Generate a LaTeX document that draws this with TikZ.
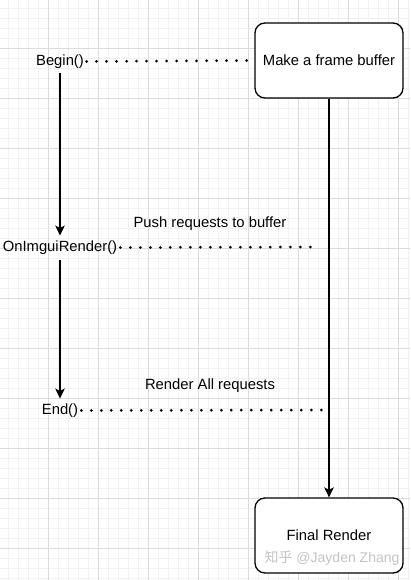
\documentclass[tikz,border=0pt]{standalone}
\usepackage{fontspec}
\setmainfont{Liberation Sans}
\newfontfamily\cjkfont{Noto Sans CJK SC}
\usetikzlibrary{arrows.meta}
\definecolor{minorgrid}{HTML}{F1F1F1}
\definecolor{majorgrid}{HTML}{DCDCDC}
\definecolor{wmark}{HTML}{C4C4C4}
\begin{document}
\begin{tikzpicture}[x=1pt,y=-1pt,
  lbl/.style={font=\fontsize{14.8}{17}\selectfont, inner sep=0pt, text height=10.5pt, text depth=3pt},
  box/.style={draw, line width=1.3pt, rounded corners=10pt, minimum width=148pt, minimum height=75pt, font=\fontsize{14.8}{17}\selectfont, inner sep=0pt},
  flow/.style={line width=1.3pt, -{Stealth[width=9.5pt,length=10pt,inset=2.5pt]}},
  dots/.style={line width=3pt, line cap=round, dash pattern=on 0pt off 10pt}]
\useasboundingbox (0,0) rectangle (410,580);
\fill[white] (0,0) rectangle (410,580);
% grid
\foreach \g in {8.5,18.5,...,408.5} {\draw[minorgrid, line width=0.8pt] (\g,0) -- (\g,580);}
\foreach \g in {8.5,18.5,...,578.5} {\draw[minorgrid, line width=0.8pt] (0,\g) -- (410,\g);}
\foreach \g in {48.5,98.5,...,408.5} {\draw[majorgrid, line width=0.8pt] (\g,0) -- (\g,580);}
\foreach \g in {48.5,98.5,...,578.5} {\draw[majorgrid, line width=0.8pt] (0,\g) -- (410,\g);}
% nodes
\node[box, fill=white] (fb) at (329,60.5) {Make a frame buffer};
\node[box, fill=white] (final) at (329,535.5) {Final Render};
\node[lbl] (begin) at (60,61.5) {Begin()};
\node[lbl] (imgui) at (60,247.5) {OnImguiRender()};
\node[lbl] (endn) at (60,410.5) {End()};
\node[lbl] (push) at (210,223.5) {Push requests to buffer};
\node[lbl] (rall) at (210,385.5) {Render All requests};
\node[font=\fontsize{14}{16}\selectfont, text=wmark, inner sep=0pt] (wm) at (332,558) {{\cjkfont 知乎} @Jayden Zhang};
\coordinate (imguiend) at (318,247);
\coordinate (endend) at (326,410);
% connectors
\draw[dots, shorten <=2.5pt] (begin.east) -- (fb.west);
\draw[dots, shorten <=3pt] (imgui.east) -- (imguiend);
\draw[dots, shorten <=3pt] (endn.east) -- (endend);
\draw[flow, shorten <=5pt, shorten >=5pt] (begin.south) -- (imgui.north);
\draw[flow, shorten <=5.5pt, shorten >=5pt] (imgui.south) -- (endn.north);
\draw[flow] (fb.south) -- (final.north);
\end{tikzpicture}
\end{document}
